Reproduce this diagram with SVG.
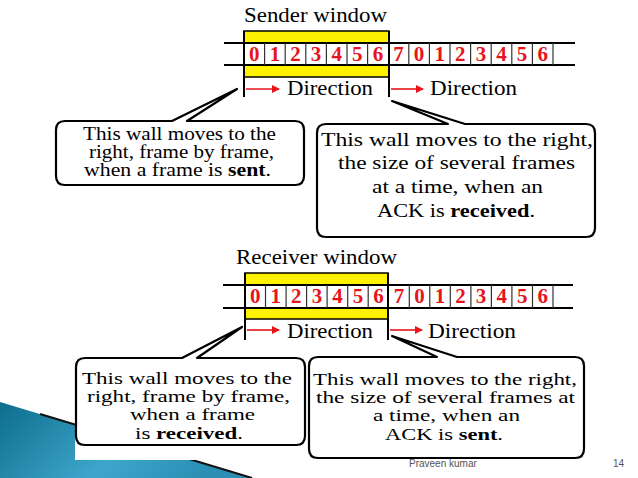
<svg xmlns="http://www.w3.org/2000/svg" width="638" height="478" viewBox="0 0 638 478">
<style>
.t{font-family:"Liberation Serif","Times New Roman",serif;fill:#000}
.d{font-family:"Liberation Serif","Times New Roman",serif;font-weight:bold;font-size:21px;fill:#e8141c;text-anchor:middle}
.b{font-weight:bold}
.co{fill:#fff;stroke:#000;stroke-width:2.2;stroke-linejoin:round}
.ln{stroke:#000;stroke-width:2;fill:none}
.dv{stroke:#333;stroke-width:1.2}
.ar{stroke:#e8141c;stroke-width:1.6;fill:none}
.ft{font-family:"Liberation Sans",Arial,sans-serif;font-size:10px;fill:#555}
</style>
<defs>
<linearGradient id="tg" x1="0" y1="0" x2="1" y2="0.3">
<stop offset="0" stop-color="#0d6d8c"/>
<stop offset="0.6" stop-color="#3ea6cc"/>
<stop offset="1" stop-color="#2b8fb4"/>
</linearGradient>
<marker id="ah" markerWidth="8" markerHeight="8" refX="7" refY="4" orient="auto" markerUnits="userSpaceOnUse">
<path d="M0,0 L8,4 L0,8 Z" fill="#e8141c"/>
</marker>
</defs>
<rect width="638" height="478" fill="#fff"/>
<g id="decor">
<polygon points="0,402 252,478 0,478" fill="url(#tg)"/>
<line x1="40" y1="414" x2="252" y2="478" stroke="#111" stroke-width="2"/>
<rect x="75" y="380" width="563" height="80" fill="#fff"/>
</g>

<g id="connectors">
<path class="co" d="M65 121 H172 L237 89 L187 121 H295 Q304 121 304 130 V176 Q304 185 295 185 H65 Q56 185 56 176 V130 Q56 121 65 121 Z"/>
<path class="co" d="M326 124 H448 L392 101 L465 124 H586 Q595 124 595 133 V228 Q595 237 586 237 H326 Q317 237 317 228 V133 Q317 124 326 124 Z"/>
<path class="co" d="M85 358 H182 L242 327 L197 358 H296 Q305 358 305 367 V436 Q305 445 296 445 H85 Q76 445 76 436 V367 Q76 358 85 358 Z"/>
<path class="co" d="M318 357 H437 L392 336 L457 357 H575 Q584 357 584 366 V449 Q584 458 575 458 H318 Q309 458 309 449 V366 Q309 357 318 357 Z"/>
</g>

<g id="sender">
<text class="t" x="244" y="22" font-size="21" textLength="143" lengthAdjust="spacingAndGlyphs">Sender window</text>
<rect x="244" y="31" width="145" height="46" fill="#fff200" stroke="#000" stroke-width="1.5"/>
<rect x="244" y="43" width="309" height="22" fill="#fff"/>
<line class="ln" x1="224" y1="43" x2="575" y2="43"/>
<line class="ln" x1="224" y1="65" x2="575" y2="65"/>
<g class="dv">
<line x1="264.6" y1="43" x2="264.6" y2="65"/><line x1="285.2" y1="43" x2="285.2" y2="65"/><line x1="305.8" y1="43" x2="305.8" y2="65"/><line x1="326.4" y1="43" x2="326.4" y2="65"/><line x1="347" y1="43" x2="347" y2="65"/><line x1="367.6" y1="43" x2="367.6" y2="65"/><line x1="408.8" y1="43" x2="408.8" y2="65"/><line x1="429.4" y1="43" x2="429.4" y2="65"/><line x1="450" y1="43" x2="450" y2="65"/><line x1="470.6" y1="43" x2="470.6" y2="65"/><line x1="491.2" y1="43" x2="491.2" y2="65"/><line x1="511.8" y1="43" x2="511.8" y2="65"/><line x1="532.4" y1="43" x2="532.4" y2="65"/><line x1="553" y1="43" x2="553" y2="65"/>
</g>
<g>
<text class="d" x="254.3" y="61">0</text><text class="d" x="274.9" y="61">1</text><text class="d" x="295.5" y="61">2</text><text class="d" x="316.1" y="61">3</text><text class="d" x="336.7" y="61">4</text><text class="d" x="357.3" y="61">5</text><text class="d" x="377.9" y="61">6</text><text class="d" x="398.5" y="61">7</text><text class="d" x="419.1" y="61">0</text><text class="d" x="439.7" y="61">1</text><text class="d" x="460.3" y="61">2</text><text class="d" x="480.9" y="61">3</text><text class="d" x="501.5" y="61">4</text><text class="d" x="522.1" y="61">5</text><text class="d" x="542.7" y="61">6</text>
</g>
<line class="ln" x1="244" y1="31" x2="244" y2="97"/>
<line class="ln" x1="389" y1="31" x2="389" y2="97"/>
<line class="ar" x1="246" y1="89" x2="279" y2="89" marker-end="url(#ah)"/>
<line class="ar" x1="391" y1="89" x2="423" y2="89" marker-end="url(#ah)"/>
<text class="t" x="287" y="95" font-size="21" textLength="86" lengthAdjust="spacingAndGlyphs">Direction</text>
<text class="t" x="430" y="95" font-size="21" textLength="87" lengthAdjust="spacingAndGlyphs">Direction</text>
</g>

<g id="receiver">
<text class="t" x="236" y="264" font-size="21" textLength="161" lengthAdjust="spacingAndGlyphs">Receiver window</text>
<rect x="245" y="273" width="143" height="46" fill="#fff200" stroke="#000" stroke-width="1.5"/>
<rect x="245" y="285" width="308" height="23" fill="#fff"/>
<line class="ln" x1="223" y1="285" x2="573" y2="285"/>
<line class="ln" x1="223" y1="308" x2="573" y2="308"/>
<g class="dv">
<line x1="265.5" y1="285" x2="265.5" y2="308"/><line x1="286.1" y1="285" x2="286.1" y2="308"/><line x1="306.6" y1="285" x2="306.6" y2="308"/><line x1="327.1" y1="285" x2="327.1" y2="308"/><line x1="347.7" y1="285" x2="347.7" y2="308"/><line x1="368.2" y1="285" x2="368.2" y2="308"/><line x1="409.3" y1="285" x2="409.3" y2="308"/><line x1="429.8" y1="285" x2="429.8" y2="308"/><line x1="450.3" y1="285" x2="450.3" y2="308"/><line x1="470.9" y1="285" x2="470.9" y2="308"/><line x1="491.4" y1="285" x2="491.4" y2="308"/><line x1="511.9" y1="285" x2="511.9" y2="308"/><line x1="532.5" y1="285" x2="532.5" y2="308"/><line x1="553" y1="285" x2="553" y2="308"/>
</g>
<g>
<text class="d" x="255.3" y="303">0</text><text class="d" x="275.8" y="303">1</text><text class="d" x="296.3" y="303">2</text><text class="d" x="316.9" y="303">3</text><text class="d" x="337.4" y="303">4</text><text class="d" x="358" y="303">5</text><text class="d" x="378.5" y="303">6</text><text class="d" x="399" y="303">7</text><text class="d" x="419.5" y="303">0</text><text class="d" x="440.1" y="303">1</text><text class="d" x="460.6" y="303">2</text><text class="d" x="481.1" y="303">3</text><text class="d" x="501.7" y="303">4</text><text class="d" x="522.2" y="303">5</text><text class="d" x="542.8" y="303">6</text>
</g>
<line class="ln" x1="245" y1="273" x2="245" y2="340"/>
<line class="ln" x1="388" y1="273" x2="388" y2="340"/>
<line class="ar" x1="247" y1="330" x2="279" y2="330" marker-end="url(#ah)"/>
<line class="ar" x1="390" y1="330" x2="422" y2="330" marker-end="url(#ah)"/>
<text class="t" x="287" y="338" font-size="21" textLength="86" lengthAdjust="spacingAndGlyphs">Direction</text>
<text class="t" x="428" y="338" font-size="21" textLength="88" lengthAdjust="spacingAndGlyphs">Direction</text>
</g>

<g id="note-sender-left">
<text class="t" x="83" y="140" font-size="18" textLength="193" lengthAdjust="spacingAndGlyphs">This wall moves to the</text>
<text class="t" x="89" y="158" font-size="18" textLength="185" lengthAdjust="spacingAndGlyphs">right, frame by frame,</text>
<text class="t" x="84" y="176" font-size="18" textLength="187" lengthAdjust="spacingAndGlyphs">when a frame is <tspan class="b">sent</tspan>.</text>
</g>
<g id="note-sender-right">
<text class="t" x="321" y="146" font-size="19" textLength="272" lengthAdjust="spacingAndGlyphs">This wall moves to the right,</text>
<text class="t" x="338" y="169" font-size="19" textLength="237" lengthAdjust="spacingAndGlyphs">the size of several frames</text>
<text class="t" x="372" y="193" font-size="19" textLength="171" lengthAdjust="spacingAndGlyphs">at a time, when an</text>
<text class="t" x="377" y="217" font-size="19" textLength="158" lengthAdjust="spacingAndGlyphs">ACK is <tspan class="b">received</tspan>.</text>
</g>
<g id="note-receiver-left">
<text class="t" x="82" y="384" font-size="16.5" textLength="210" lengthAdjust="spacingAndGlyphs">This wall moves to the</text>
<text class="t" x="87" y="402" font-size="16.5" textLength="203" lengthAdjust="spacingAndGlyphs">right, frame by frame,</text>
<text class="t" x="130" y="420" font-size="16.5" textLength="125" lengthAdjust="spacingAndGlyphs">when a frame</text>
<text class="t" x="135" y="439" font-size="16.5" textLength="108" lengthAdjust="spacingAndGlyphs">is <tspan class="b">received</tspan>.</text>
</g>
<g id="note-receiver-right">
<text class="t" x="313" y="385" font-size="16.5" textLength="264" lengthAdjust="spacingAndGlyphs">This wall moves to the right,</text>
<text class="t" x="316" y="403" font-size="16.5" textLength="259" lengthAdjust="spacingAndGlyphs">the size of several frames at</text>
<text class="t" x="373" y="421" font-size="16.5" textLength="147" lengthAdjust="spacingAndGlyphs">a time, when an</text>
<text class="t" x="385" y="440" font-size="16.5" textLength="118" lengthAdjust="spacingAndGlyphs">ACK is <tspan class="b">sent</tspan>.</text>
</g>

<g id="footer">
<text class="ft" x="409" y="467">Praveen kumar</text>
<text class="ft" x="613" y="467">14</text>
</g>
</svg>
